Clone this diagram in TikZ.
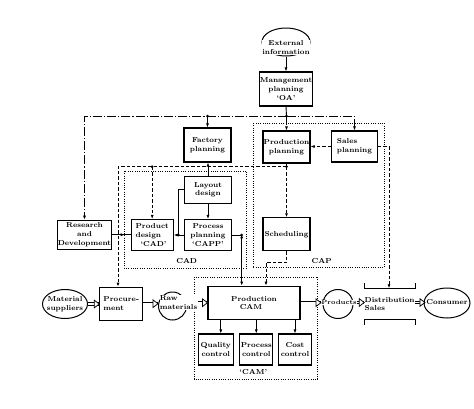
\documentclass[tikz,border=0pt]{standalone}
\usetikzlibrary{shapes.geometric,arrows.meta,decorations.markings}
\begin{document}
\begin{tikzpicture}[x=1pt,y=-1pt,
  font=\fontsize{7.2}{8.8}\selectfont\bfseries,
  box/.style={draw, line width=1.05pt, inner sep=0.5pt, align=center},
  oval/.style={draw, ellipse, line width=1pt, inner sep=0pt},
  lbl/.style={fill=white, inner sep=0.3pt, align=center},
  plain/.style={inner sep=0.3pt, align=center},
  arr/.style={-{Latex[length=4pt,width=3pt]}},
  ddash/.style={line width=0.9pt, dash pattern=on 3.4pt off 2pt},
  dotl/.style={line width=0.95pt, dash pattern=on 1pt off 1.3pt},
  dashdot/.style={line width=0.9pt, dash pattern=on 9pt off 2pt on 1.2pt off 2pt},
  solidl/.style={line width=0.9pt},
  midarr/.style={line width=0.9pt, postaction={decorate}, decoration={markings,
     mark=at position 0.68 with {\arrow{Latex[length=4pt,width=3pt]}}}},
  hollow/.style={double, double distance=1.8pt, line width=0.75pt,
     postaction={decorate}, decoration={markings,
     mark=at position 1 with {\draw[solid, line width=0.75pt, fill=white]
        (-5pt,-3.8pt) -- (0pt,0pt) -- (-5pt,3.8pt) -- cycle;}}}
]
\useasboundingbox (0,0) rectangle (474,408);

% ---------- regions (dotted) ----------
\draw[dotl] (124,171) rectangle (246.7,268);
\draw[dotl] (253,123) rectangle (384,267.5);
\draw[dotl] (194,277) rectangle (317.7,379);
\node[plain] (cadlbl) at (186.7,261.5) {CAD};
\node[plain] (caplbl) at (321.7,261.5) {CAP};
\node[plain] (camlbl) at (253.3,372.5) {`CAM'};

% ---------- nodes ----------
\node[oval, minimum width=48pt, minimum height=28pt] (exto) at (286,42) {};
\node[lbl] (ext) at (286,47.5) {External\\information};
\node[box, minimum width=48pt, minimum height=34pt] (mgmt) at (286,89) {Management\\planning\\`OA'};
\node[box, minimum width=47pt, minimum height=34pt] (fact) at (207.5,145) {Factory\\planning};
\node[box, minimum width=47pt, minimum height=32pt] (prodplan) at (286.5,147) {Production\\planning};
\node[box, minimum width=46pt, minimum height=31pt, align=left] (sales) at (354.5,146.5) {Sales\\planning};
\node[box, minimum width=47pt, minimum height=27pt] (layout) at (208,189.7) {Layout\\design};
\node[box, minimum width=42pt, minimum height=31pt, align=left] (proddes) at (152.2,235) {Product\\design\\\hspace*{5pt}`CAD'};
\node[box, minimum width=47pt, minimum height=31pt] (procplan) at (208,235) {Process\\planning\\`CAPP'};
\node[box, minimum width=46pt, minimum height=29pt] (rd) at (84.5,234.7) {Research\\and\\Development};
\node[box, minimum width=47pt, minimum height=33pt] (sched) at (286.5,234.3) {Scheduling};
\node[box, minimum width=92pt, minimum height=33pt] (prodcam) at (254,302.7) {Production\\[-0.5pt]\hspace*{-6pt}CAM};
\node[box, minimum width=35pt, minimum height=31pt] (qc) at (215.8,349.5) {Quality\\control};
\node[box, minimum width=33pt, minimum height=31pt] (pc) at (256.3,349.5) {Process\\control};
\node[box, minimum width=33pt, minimum height=31pt] (cc) at (295,349.5) {Cost\\control};

\node[oval, minimum width=30pt, minimum height=29pt] (prodo) at (338,304) {};
\node[lbl, font=\fontsize{6.4}{7}\selectfont\bfseries] (products) at (339,302.5) {Products};
\node[plain, align=left, minimum width=46pt, minimum height=31pt] (dist) at (389.7,304) {Distribution\\Sales};
\draw[solidl] ([yshift=5pt]dist.north west) -- (dist.north west) -- (dist.north east) -- ([yshift=5pt]dist.north east);
\draw[solidl] ([yshift=-5pt]dist.south west) -- (dist.south west) -- (dist.south east) -- ([yshift=-5pt]dist.south east);
\node[oval, minimum width=46pt, minimum height=30pt] (conso) at (447,303) {};
\node[lbl] (consumer) at (447,302.5) {Consumer};

\node[oval, minimum width=45pt, minimum height=29pt] (matsupo) at (65,304) {};
\node[plain] (matsup) at (65,304) {Material\\suppliers};
\node[box, minimum width=43pt, minimum height=33pt, align=left] (procure) at (121.3,303.7) {Procure-\\ment};
\node[oval, minimum width=28pt, minimum height=28pt] (rawo) at (172.5,306) {};
\node[lbl, align=left, anchor=west] (raw) at (159.3,302.5) {Raw\\materials};

% ---------- junctions ----------
\coordinate (j2) at (286.5,116);
\coordinate (j3) at (207.5,116);
\coordinate (ddl) at (84.5,116);
\coordinate (ddr) at (354.5,116);
\coordinate (j1) at (286.5,166.7);
\coordinate (j4) at (152.2,166.7);
\coordinate (ddleft) at (118,166.7);
\coordinate (j5) at (241.7,235);
\coordinate (j6) at (178.3,235);
\coordinate (s1) at (266,262.7);
\coordinate (s2) at (389,146.5);

% ---------- dash-dot (management) ----------
\draw[arr, solidl] (exto.south) -- (mgmt.north);
\draw[dashdot] (mgmt.south) -- (j2);
\draw[dashdot, arr] (j2) -- (prodplan.north);
\draw[dashdot, arr] (j2) -- (ddr) -- (sales.north);
\draw[dashdot, arr] (j2) -- (ddl) -- (rd.north);
\draw[dashdot, arr] (j3) -- (fact.north);
\fill (j2) circle (1.5pt);
\fill (j3) circle (1.5pt);

% ---------- dashed (production planning) ----------
\draw[ddash] (prodplan.south) -- (j1);
\draw[ddash, arr] (j1) -- (sched.north);
\draw[ddash, arr] (j1) -- (ddleft) -- (ddleft |- procure.north);
\draw[ddash, arr] (j4) -- (proddes.north);
\fill (j1) circle (1.5pt);
\fill (j4) circle (1.5pt);
\draw[ddash, arr] (sched.south) |- (s1) -- (s1 |- prodcam.north);
\draw[ddash, arr] (sales.west) -- (sales.west -| prodplan.east);
\draw[ddash, arr] (sales.east) -- (s2) -- (s2 |- dist.north);

% ---------- solid ----------
\draw[solidl, arr] (layout.north) -- (layout.north |- fact.south);
\draw[solidl, arr] (layout.south) -- (procplan.north);
\draw[solidl] (layout.west) -| (j6);
\draw[solidl] (procplan.west) -- (j6);
\draw[solidl, arr] (j6) -- (proddes.east);
\fill (j6) circle (1.5pt);
\draw[midarr] (rd.east) -- (rd.east -| proddes.west);
\draw[solidl] (procplan.east) -- (j5);
\draw[solidl, arr] (j5) -- (j5 |- sched.west);
\draw[solidl, arr] (j5) -- (j5 |- prodcam.north);
\fill (j5) circle (1.5pt);
\draw[solidl, arr] ([xshift=5pt]qc.north |- prodcam.south) -- ([xshift=5pt]qc.north);
\draw[solidl, arr] (pc.north |- prodcam.south) -- (pc.north);
\draw[solidl, arr] (cc.north |- prodcam.south) -- (cc.north);

% ---------- hollow flow arrows ----------
\draw[hollow] (matsupo.east) -- (matsupo.east -| procure.west);
\draw[hollow] (procure.east) -- (procure.east -| rawo.west);
\draw[hollow] (raw.east |- prodcam.west) -- (prodcam.west);
\draw[hollow] (prodcam.east) -- (prodcam.east -| products.west);
\draw[hollow] (products.east) -- (products.east -| dist.west);
\draw[hollow] (dist.east |- consumer.west) -- ([xshift=-1pt]consumer.west);
\end{tikzpicture}
\end{document}
